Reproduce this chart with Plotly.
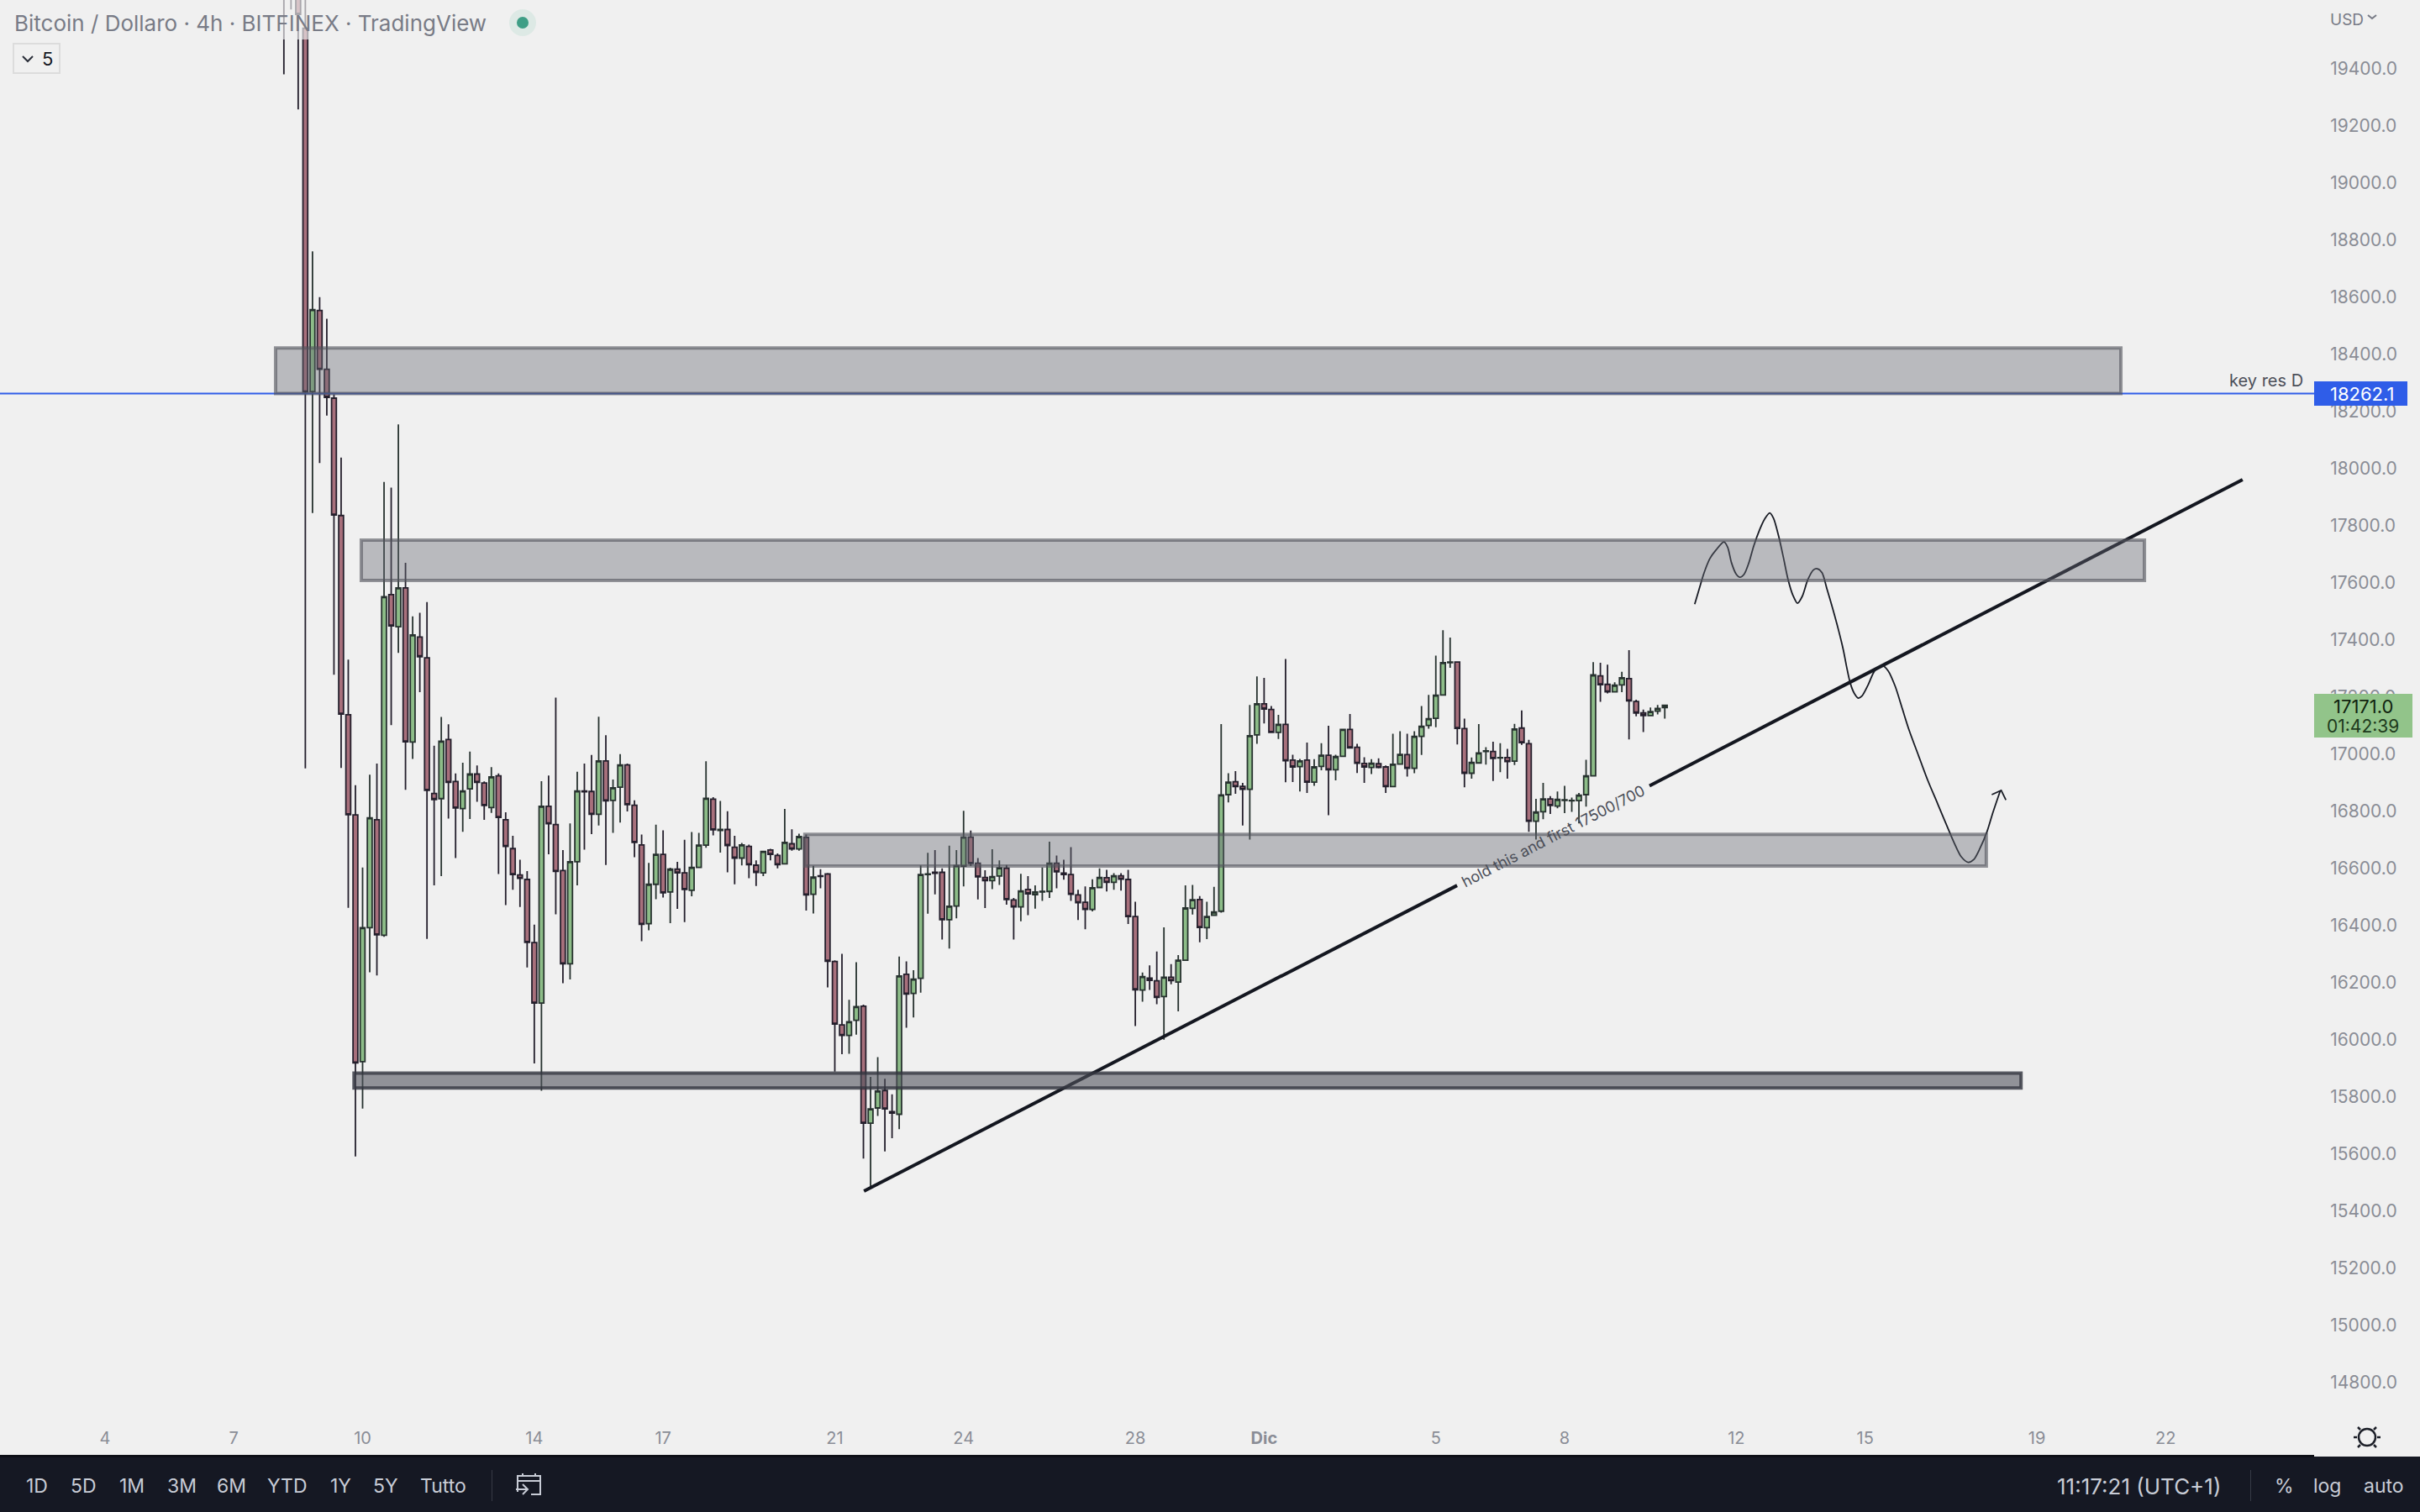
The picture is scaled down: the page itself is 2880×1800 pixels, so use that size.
import pandas as pd
import plotly.graph_objects as go

##### candles, 4h #####
candle_open = [19900,19760,19680,19541,18269,18553,18347,18246,17835,17138,16787,15923,16392,16770,16366,17558,17446,17582,17042,17410,
 17337,16862,16844,17051,16904,16809,16878,16930,16899,16813,16924,16770,16669,16577,16561,16340,16128,16817,16753,16592,
 16266,16623,16871,16869,16789,16976,16838,16884,16962,16821,16682,16406,16544,16649,16517,16597,16584,16523,16603,16681,
 16842,16733,16736,16674,16636,16677,16611,16584,16664,16645,16616,16686,16668,16708,16509,16574,16580,16274,16052,16015,
 16068,16117,15708,15761,15822,15748,15739,16229,16162,16215,16578,16586,16586,16420,16468,16608,16709,16618,16568,16557,
 16573,16600,16489,16465,16526,16508,16517,16519,16618,16583,16578,16507,16481,16456,16533,16567,16551,16574,16561,16431,
 16174,16216,16206,16151,16219,16202,16278,16460,16491,16392,16436,16450,16858,16903,16887,16877,17067,17176,17156,17076,
 17104,16979,16956,16979,16902,16957,16996,16945,16992,17086,17024,16967,16953,16966,16955,16886,16965,16998,16950,17062,
 17100,17125,17207,17320,17322,17089,16933,16969,17009,17009,16986,16988,16975,17091,17036,16765,16798,16843,16818,16838,
 16836,16837,16858,16924,17274,17244,17218,17242,17264,17184,17144,17135,17150,17163]
candle_high = [19990,19950,19800,19800,18760,18600,18524,18259,18038,17331,16891,16603,16928,16967,17953,17933,18154,17670,17482,17495,
 17532,17029,17130,17104,16932,16970,17009,16960,16904,16954,16932,16796,16714,16630,16590,16403,16905,16925,17198,16664,
 16757,16938,16967,16997,17131,17066,16911,17000,16967,16838,16718,16619,16753,16733,16602,16623,16700,16727,16724,16975,
 16849,16836,16800,16714,16689,16683,16628,16662,16668,16652,16808,16737,16721,16718,16609,16597,16584,16278,16301,16140,
 16271,16123,15870,15939,15863,15809,16291,16274,16243,16610,16654,16664,16600,16679,16664,16801,16732,16636,16593,16667,
 16628,16612,16496,16581,16573,16540,16603,16693,16645,16630,16674,16525,16537,16562,16600,16595,16583,16583,16595,16483,
 16235,16260,16309,16393,16265,16296,16540,16542,16503,16483,16535,17105,16933,16940,16899,17172,17272,17267,17168,17137,
 17333,16998,16983,17040,16982,17038,17099,16998,17086,17140,17036,16989,16982,16985,16960,17071,17080,17071,17080,17168,
 17207,17345,17434,17408,17322,17124,16988,17105,17024,17043,17038,17018,17106,17153,17050,16843,16899,16853,16869,16889,
 16848,16864,16980,17322,17320,17313,17251,17288,17364,17190,17156,17163,17172,17171]
candle_low = [19380,19607,19257,16950,17844,18019,18185,17278,16951,16462,15591,15759,16236,16225,16360,17101,17354,16875,16983,17217,
 16353,16540,16573,16774,16636,16728,16773,16833,16770,16794,16580,16471,16525,16465,16253,15917,15821,16649,16439,16198,
 16211,16540,16665,16720,16750,16612,16724,16760,16799,16639,16345,16383,16492,16498,16408,16458,16412,16502,16602,16672,
 16715,16655,16586,16544,16610,16565,16538,16573,16628,16600,16613,16662,16662,16452,16442,16530,16183,15888,15949,15951,
 16018,15584,15482,15733,15609,15655,15687,16042,16078,16165,16441,16509,16351,16319,16425,16537,16608,16491,16461,16527,
 16542,16473,16351,16415,16436,16459,16486,16496,16530,16560,16486,16419,16387,16449,16531,16519,16525,16522,16405,16048,
 16133,16174,16124,16000,16194,16099,16277,16438,16341,16352,16436,16445,16831,16861,16750,16701,17036,17107,17076,17053,
 16901,16902,16869,16864,16889,16943,16786,16908,16992,17019,16934,16899,16930,16950,16864,16884,16965,16921,16933,16997,
 17089,17094,17207,17302,17034,16884,16914,16969,16963,16906,16937,16914,16962,17032,16728,16701,16772,16790,16810,16793,
 16798,16757,16816,16924,17183,17212,17218,17217,17051,17132,17077,17135,17139,17124]
candle_close = [19760,19680,19590,18268,18556,18347,18249,17837,17140,16788,15919,16392,16777,16367,17551,17449,17582,17043,17417,17341,
 16873,16841,17045,16901,16811,16871,16930,16901,16820,16920,16778,16677,16578,16565,16341,16128,16817,16756,16589,16266,
 16623,16871,16868,16789,16976,16836,16882,16962,16823,16691,16404,16544,16649,16514,16597,16584,16526,16603,16681,16845,
 16735,16736,16680,16636,16682,16613,16586,16659,16649,16613,16691,16668,16711,16507,16569,16572,16275,16055,16015,16063,
 16116,15708,15758,15820,15758,15743,16223,16160,16212,16578,16580,16583,16420,16467,16610,16709,16617,16570,16557,16571,
 16602,16491,16465,16521,16511,16517,16519,16618,16588,16578,16509,16480,16456,16532,16568,16551,16574,16562,16431,16175,
 16221,16208,16148,16219,16207,16278,16461,16490,16393,16431,16447,16857,16902,16886,16877,17064,17176,17158,17076,17104,
 16977,16955,16976,16902,16955,16996,16945,16991,17086,17022,16968,16955,16968,16953,16886,16964,16999,16950,17062,17097,
 17124,17206,17320,17322,17090,16933,16971,17004,17011,16985,16988,16974,17088,17040,16765,16797,16843,16820,16841,16840,
 16838,16856,16924,17277,17243,17218,17241,17267,17186,17144,17135,17149,17160,17171]

price_ticks = [14800,15000,15200,15400,15600,15800,16000,16200,16400,16600,16800,17000,17200,17400,17600,17800,18000,18200,18400,18600,18800,19000,19200,19400]
date_ticks = ['2022-11-04','2022-11-07','2022-11-10','2022-11-14','2022-11-17','2022-11-21','2022-11-24','2022-11-28','2022-12-01','2022-12-05','2022-12-08','2022-12-12','2022-12-15','2022-12-19','2022-12-22']
date_labels = ['4','7','10','14','17','21','24','28','<b>Dic</b>','5','8','12','15','19','22']

##### drawings, x in days after 10 Nov #####
zone_left = [-2.03,-0.03,10.32,-0.20]
zone_right = [41.03,41.58,37.89,38.70]
zone_low = [18262,17608,16608,15831]
zone_high = [18422,17749,16719,15883]

trend_days_1 = [11.70,25.54]
trend_price_1 = [15470,16540]
trend_days_2 = [30.03,43.87]
trend_price_2 = [16889,17961]

path_days = [31.085,31.195,31.305,31.437,31.580,31.767,31.855,31.943,32.053,32.141,32.240,32.350,32.461,32.604,32.714,32.835,32.923,33.044,33.154,33.264,33.374,33.484,33.594,33.726,33.858,33.946,34.056,34.166,34.298,34.441,34.551,34.628,34.716,34.804,34.903,34.991,35.134,35.288,35.465,35.597,35.762,35.927,36.092,36.312,36.532,36.752,36.972,37.137,37.302,37.467,37.599,37.742,37.907,38.039,38.215]
path_price = [17525,17581,17635,17684,17714,17743,17724,17670,17630,17619,17630,17670,17728,17787,17822,17844,17826,17763,17689,17611,17557,17528,17552,17611,17645,17649,17635,17581,17513,17434,17366,17307,17248,17214,17196,17204,17243,17292,17310,17292,17238,17160,17082,16993,16905,16827,16748,16690,16641,16621,16631,16670,16729,16793,16871]
arrow_days = [38.017,38.237,38.347]
arrow_price = [16858,16873,16839]

bar_left = ['1D','5D','1M','3M','6M','YTD','1Y','5Y','Tutto']
bar_left_x = [44,99,157,216,275,342,405,459,527]
bar_right = ['%','log','auto']
bar_right_x = [2718,2770,2837]

W, H = 2880, 1800
PLOT_W, PLOT_H = 2755, 1690
FONT = 'Inter'
BG = '#f0f0f0'
DAY0 = pd.Timestamp('2022-11-10')
DAY_PX = 51.09  # axis scale, measured from the date ticks
READ_PX = 51.0  # the drawing lists above were read at this scale


def to_date(days):
    return DAY0 + pd.to_timedelta(pd.Series(days) * READ_PX / DAY_PX, unit='D')


def to_date1(days):
    return DAY0 + pd.to_timedelta(days * READ_PX / DAY_PX, unit='D')


# page pixels to paper coords
def px(x):
    return x / PLOT_W


def py(y):
    return 1 - y / PLOT_H


def box(x0, y0, x1, y1, fill, line=None, width=0):
    return dict(type='rect', xref='paper', yref='paper', layer='above',
                x0=px(x0), x1=px(x1), y0=py(y0), y1=py(y1),
                fillcolor=fill, line=dict(color=line or fill, width=width))


def stroke(points, color, width=2, closed=False):
    d = ' '.join(('M' if i == 0 else 'L') + f' {px(a):.5f},{py(b):.5f}' for i, (a, b) in enumerate(points))
    return dict(type='path', xref='paper', yref='paper', layer='above', path=d + (' Z' if closed else ''),
                line=dict(color=color, width=width))


def circle(cx, cy, r, fill, line=None, width=0):
    return dict(type='circle', xref='paper', yref='paper', layer='above',
                x0=px(cx - r), x1=px(cx + r), y0=py(cy - r), y1=py(cy + r),
                fillcolor=fill, line=dict(color=line or fill, width=width))


def label(x, y, text, size, color, anchor='center', angle=0):
    return dict(xref='paper', yref='paper', x=px(x), y=py(y), text=text, showarrow=False,
                xanchor=anchor, yanchor='middle', textangle=angle,
                font=dict(family=FONT, size=size, color=color))


times = pd.date_range('2022-11-08 04:00', periods=len(candle_open), freq='4h')

fig = go.Figure()

# blue level line sits under the zones
fig.add_trace(go.Scatter(x=[to_date1(-8.6), to_date1(45.8)], y=[18262.1, 18262.1], mode='lines',
                         line=dict(color='#2f5de8', width=2)))

fig.add_trace(go.Candlestick(x=times, open=candle_open, high=candle_high, low=candle_low, close=candle_close,
                             increasing=dict(fillcolor='#8dbd88', line=dict(color='#27322f', width=1.8)),
                             decreasing=dict(fillcolor='#a8707c', line=dict(color='#241f2c', width=1.8)),
                             whiskerwidth=0))

for d, p in [(trend_days_1, trend_price_1), (trend_days_2, trend_price_2)]:
    fig.add_trace(go.Scatter(x=to_date(d), y=p, mode='lines', line=dict(color='#141720', width=4)))

fig.add_trace(go.Scatter(x=to_date(path_days), y=path_price, mode='lines',
                         line=dict(color='#181b24', width=1.8, shape='spline', smoothing=0.8)))
fig.add_trace(go.Scatter(x=to_date(arrow_days), y=arrow_price, mode='lines', line=dict(color='#181b24', width=1.8)))

##### zones #####
shapes = []
for i in range(4):
    dark = i == 3
    shapes.append(dict(type='rect', xref='x', yref='y', layer='above',
                       x0=to_date1(zone_left[i]), x1=to_date1(zone_right[i]), y0=zone_low[i], y1=zone_high[i],
                       fillcolor='rgba(82,84,94,0.6)' if dark else 'rgba(102,105,115,0.4)',
                       line=dict(color='rgba(50,52,62,0.8)' if dark else 'rgba(80,82,90,0.6)', width=4)))

##### header #####
shapes.append(box(8, 0, 600, 47, 'rgba(240,240,240,0.65)'))
shapes.append(circle(622, 27, 16, '#dde9e5'))
shapes.append(circle(622, 27, 7, '#3f9e86'))
shapes.append(box(16, 52, 71, 87, BG, '#dcdcdc', 2))
shapes.append(stroke([(27, 67), (33, 73), (39, 67)], '#2a2e39', 2))
shapes.append(stroke([(2818, 18), (2823, 22), (2828, 18)], '#787b86', 2))

##### price labels on the axis #####
shapes.append(box(2754, 454, 2865, 483, '#2f5de8'))
shapes.append(box(2754, 826, 2871, 878, '#92c48a'))

##### bottom bar #####
shapes.append(box(0, 1732, 2754, 1800, '#151823'))
shapes.append(box(2754, 1734, 2880, 1800, '#151823'))
shapes.append(box(0, 1732, 2754, 1735, '#0d0f16'))
shapes.append(box(585, 1750, 586, 1787, '#363a45'))
shapes.append(box(2678, 1750, 2679, 1787, '#363a45'))

# calendar icon
shapes.append(stroke([(616, 1776), (616, 1757), (643, 1757), (643, 1779), (632, 1779)], '#c8ccd6', 2))
shapes.append(stroke([(616, 1763), (643, 1763)], '#c8ccd6', 2))
shapes.append(stroke([(622, 1754), (622, 1758)], '#c8ccd6', 2))
shapes.append(stroke([(637, 1754), (637, 1758)], '#c8ccd6', 2))
shapes.append(stroke([(614, 1773), (628, 1773)], '#c8ccd6', 2))
shapes.append(stroke([(622, 1767), (628, 1773), (622, 1779)], '#c8ccd6', 2))

# sun icon
shapes.append(circle(2817, 1711, 10, BG, '#1c1f28', 2.5))
for a, b, c, d in [(2805, 1711, 2801, 1711), (2829, 1711, 2833, 1711), (2809, 1702, 2806, 1699),
                   (2825, 1702, 2828, 1699), (2809, 1720, 2806, 1723), (2825, 1720, 2828, 1723)]:
    shapes.append(stroke([(a, b), (c, d)], '#1c1f28', 2.5))

##### text #####
notes = [
    label(15, 27, 'Bitcoin / Dollaro · 4h · BITFINEX · TradingView', 26, '#787b86', 'left'),
    label(56, 70, '5', 22, '#131722'),
    label(2771, 24, 'USD', 19, '#787b86', 'left'),
    label(2743, 453, 'key res D', 20, '#4c4f59', 'right'),
    label(2811, 469, '18262.1', 22, '#ffffff'),
    label(2812, 841, '17171.0', 22, '#10230f'),
    label(2812, 864, '01:42:39', 21, '#1d3a1c'),
    label(1848, 995, 'hold this and first 17500/700', 18, '#4a4d57', angle=-27.3),
    label(2545, 1769, '11:17:21 (UTC+1)', 26, '#c8ccd6'),
]
for t, x in zip(bar_left, bar_left_x):
    notes.append(label(x, 1769, t, 23, '#c8ccd6'))
for t, x in zip(bar_right, bar_right_x):
    notes.append(label(x, 1769, t, 23, '#c8ccd6'))

fig.update_layout(width=W, height=H, margin=dict(l=0, r=W - PLOT_W, t=0, b=H - PLOT_H, pad=0, autoexpand=False),
                  paper_bgcolor=BG, plot_bgcolor=BG, showlegend=False, shapes=shapes, annotations=notes,
                  font=dict(family=FONT), boxgap=0.33, boxgroupgap=0)
x_left = DAY0 - pd.to_timedelta(431.5 / DAY_PX, unit='D')
x_right = DAY0 + pd.to_timedelta((PLOT_W - 431.5) / DAY_PX, unit='D')
fig.update_xaxes(type='date', range=[x_left, x_right], rangeslider_visible=False,
                 tickvals=date_ticks, ticktext=date_labels, showgrid=False, zeroline=False, showline=False,
                 ticks='outside', ticklen=4, tickcolor=BG, tickfont=dict(family=FONT, size=20, color='#8a8d96'))
fig.update_yaxes(side='right', range=[14670, 19640], tickvals=price_ticks, tickformat='.1f',
                 showgrid=False, zeroline=False, showline=False,
                 ticks='outside', ticklen=13, tickcolor=BG, tickfont=dict(family=FONT, size=21, color='#8a8d96'))

fig.write_html("out.html", config=dict(displayModeBar=False), post_script="document.body.style.margin='0';")
